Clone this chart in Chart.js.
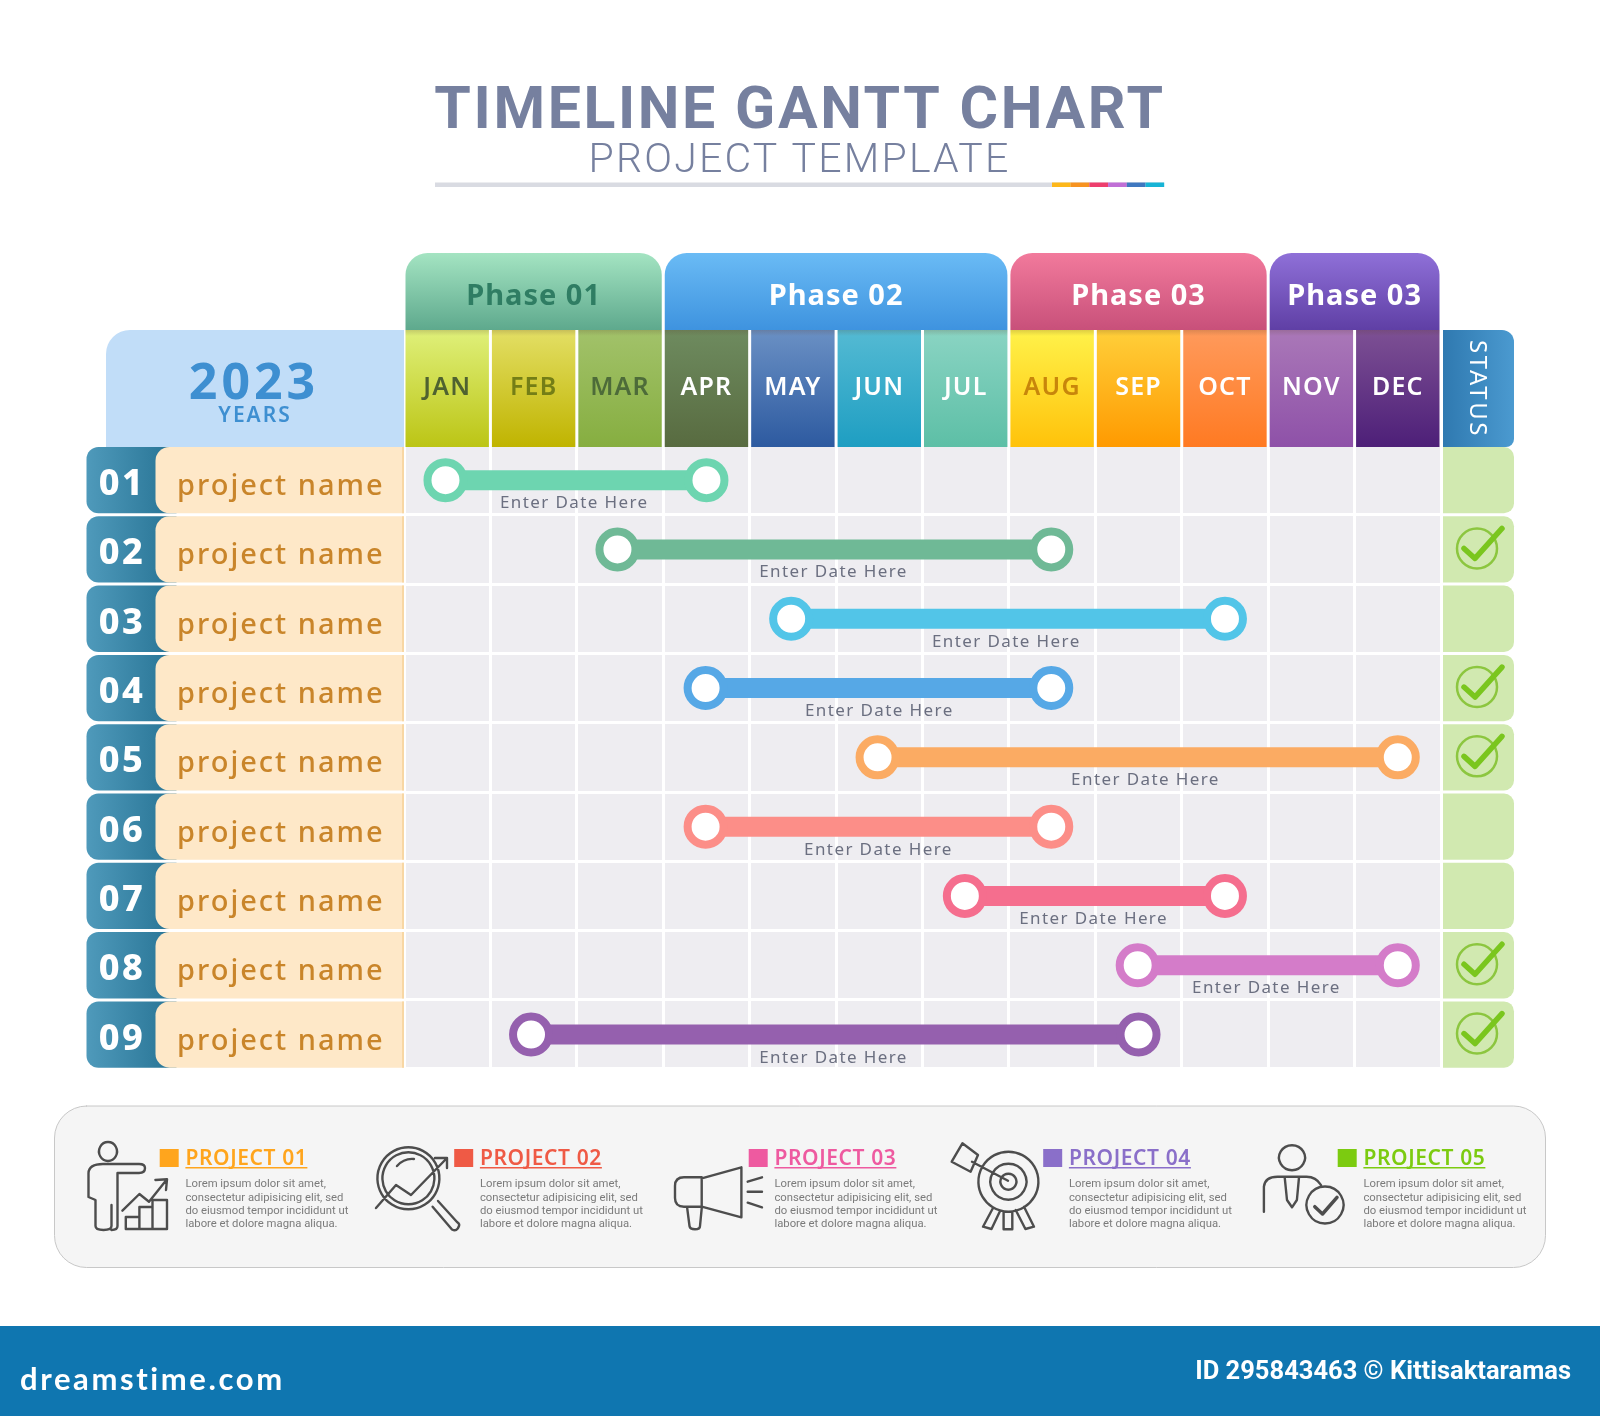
<!DOCTYPE html>
<html>
<head>
<meta charset="utf-8">
<title>Timeline Gantt Chart</title>
<script src="https://cdn.jsdelivr.net/npm/chart.js@4/dist/chart.umd.min.js"></script>
<style>
  html, body { margin: 0; padding: 0; background: #fff; }
  canvas { display: block; }
</style>
</head>
<body>
<canvas id="gantt" width="1600" height="1416"></canvas>
<script>
const months = ["JAN", "FEB", "MAR", "APR", "MAY", "JUN", "JUL", "AUG", "SEP", "OCT", "NOV", "DEC"];
const monthTops = ["#dff07a", "#e3df65", "#a2c26a", "#6e8b5f", "#6a90c4", "#54bad3", "#8ad4c3", "#fff24a", "#ffcf3a", "#ff9a5c", "#aa78b8", "#7d5094"];
const monthBottoms = ["#bcc515", "#c0b400", "#86ae40", "#586b40", "#2d5aa0", "#1e9ec2", "#5dbfa6", "#ffc20a", "#ff9a00", "#ff7a22", "#8e51a8", "#4d1f78"];
const monthText = ["#4f6230", "#747e16", "#4d6b39", "#fff", "#fff", "#fff", "#fff", "#c8860b", "#fff", "#fff", "#fff", "#fff"];

const phaseNames = ["Phase 01", "Phase 02", "Phase 03", "Phase 03"];
const phaseStarts = [0, 3, 7, 10];
const phaseEnds = [3, 7, 10, 12];
const phaseTops = ["#a4e4c2", "#6abbf5", "#f27a9c", "#8f70d8"];
const phaseBottoms = ["#5ea98d", "#3e93df", "#c8507a", "#5f3fa5"];
const phaseText = ["#2f7d63", "#fff", "#fff", "#fff"];

const rowNumbers = ["01", "02", "03", "04", "05", "06", "07", "08", "09"];
const rowNames = Array(9).fill("project name");
const taskStarts = [0.48, 2.47, 4.48, 3.49, 5.48, 3.49, 6.49, 8.49, 1.47];
const taskEnds = [3.5, 7.49, 9.5, 7.49, 11.5, 7.49, 9.5, 11.5, 8.5];
const labelAt = [1.97, 4.97, 6.97, 5.5, 8.58, 5.49, 7.98, 9.98, 4.97];
const taskColors = ["#6dd5b0", "#6fb996", "#52c5e8", "#56a8e6", "#fbab63", "#fc8e88", "#f56e8e", "#d47cc9", "#9560ae"];
const taskDone = [false, true, false, true, true, false, false, true, true];
const dateLabel = "Enter Date Here";

const legendTitles = ["PROJECT 01", "PROJECT 02", "PROJECT 03", "PROJECT 04", "PROJECT 05"];
const legendColors = ["#ffa51d", "#ef5a45", "#ee5aa0", "#8a6fc9", "#7ccb10"];
const legendBody = [
  "Lorem ipsum dolor sit amet,",
  "consectetur adipisicing elit, sed",
  "do eiusmod tempor incididunt ut",
  "labore et dolore magna aliqua."
];
const ruleColors = ["#fdb71a", "#f79320", "#ee3e6d", "#c06fd6", "#3f78c0", "#17b4d6"];

const HEAD = '"Noto Sans", sans-serif';

function txt(ctx, str, x, y, font, color, align, spacing) {
  ctx.font = font;
  ctx.fillStyle = color;
  ctx.textAlign = align || "left";
  ctx.textBaseline = "alphabetic";
  ctx.letterSpacing = (spacing || 0) + "px";
  ctx.fillText(str, x, y);
  ctx.letterSpacing = "0px";
}

function box(ctx, x, y, w, h, radii, fill) {
  ctx.beginPath();
  ctx.roundRect(x, y, w, h, radii);
  ctx.fillStyle = fill;
  ctx.fill();
}

function vGrad(ctx, y0, y1, c0, c1) {
  const g = ctx.createLinearGradient(0, y0, 0, y1);
  g.addColorStop(0, c0);
  g.addColorStop(1, c1);
  return g;
}

function hGrad(ctx, x0, x1, c0, c1) {
  const g = ctx.createLinearGradient(x0, 0, x1, 0);
  g.addColorStop(0, c0);
  g.addColorStop(1, c1);
  return g;
}

function drawTitle(ctx) {
  txt(ctx, "TIMELINE GANTT CHART", 800, 128, "700 59px Roboto", "#76809f", "center", 2.6);
  txt(ctx, "PROJECT TEMPLATE", 799.5, 172, "300 41px Roboto", "#76809f", "center", 2.2);
  box(ctx, 435, 182.5, 729, 4.5, 0, "#d9dbe2");
  ruleColors.forEach((c, i) => box(ctx, 1052 + i * 18.7, 182.5, 18.7, 4.5, 0, c));
}

function drawHeader(ctx, x) {
  box(ctx, 106, 330, 298, 117, [24, 0, 0, 0], "#c1ddf8");
  txt(ctx, "2023", 254, 399, "700 50px " + HEAD, "#3e8fd1", "center", 4);
  txt(ctx, "YEARS", 255, 422, "600 21px " + HEAD, "#3e8fd1", "center", 2);

  phaseNames.forEach((name, i) => {
    const l = x.getPixelForValue(phaseStarts[i]) + 1.5;
    const r = x.getPixelForValue(phaseEnds[i]) - 1.5;
    box(ctx, l, 253, r - l, 77, [22, 22, 0, 0], vGrad(ctx, 253, 330, phaseTops[i], phaseBottoms[i]));
    txt(ctx, name, (l + r) / 2, 305, "700 29px " + HEAD, phaseText[i], "center", 1);
  });

  months.forEach((m, i) => {
    const l = x.getPixelForValue(i) + 1.5;
    const r = x.getPixelForValue(i + 1) - 1.5;
    box(ctx, l, 330, r - l, 117, 0, vGrad(ctx, 330, 447, monthTops[i], monthBottoms[i]));
    box(ctx, l, 330, r - l, 6, 0, vGrad(ctx, 330, 336, "rgba(90,60,40,0.2)", "rgba(90,60,40,0)"));
    txt(ctx, m, (l + r) / 2, 395, "600 25px " + HEAD, monthText[i], "center", 1.2);
  });

  box(ctx, 1443, 330, 71, 117, [0, 12, 8, 0], hGrad(ctx, 1443, 1514, "#2f79b0", "#4b9ad0"));
  ctx.save();
  ctx.translate(1470, 389);
  ctx.rotate(Math.PI / 2);
  txt(ctx, "STATUS", 0, 0, "400 24px " + HEAD, "#fff", "center", 2.6);
  ctx.restore();
}

function drawCheck(ctx, cx, cy) {
  ctx.lineCap = "round";
  ctx.lineJoin = "round";
  ctx.beginPath();
  ctx.arc(cx, cy, 20, 0, Math.PI * 2);
  ctx.strokeStyle = "#8cc63f";
  ctx.lineWidth = 2.5;
  ctx.stroke();
  ctx.beginPath();
  ctx.moveTo(cx - 13, cy);
  ctx.lineTo(cx - 2, cy + 10);
  ctx.lineTo(cx + 25, cy - 20);
  ctx.strokeStyle = "#7ac61e";
  ctx.lineWidth = 5.5;
  ctx.stroke();
}

function drawRows(ctx, x, y) {
  rowNumbers.forEach((num, i) => {
    const top = Math.max(y.getPixelForValue(i) + 1.5, 447);
    const bot = y.getPixelForValue(i + 1) - 1.5;
    const h = bot - top;
    box(ctx, 86.5, top, 90, h, [12, 0, 0, 12], hGrad(ctx, 86, 166, "#4f9abb", "#2b7798"));
    box(ctx, 155.5, top, 248.5, h, [14, 0, 0, 14], "#fee8c8");
    box(ctx, 402, top, 2, h, 0, "#f8d7a4");
    const base = y.getPixelForValue(i + 0.5) + 15;
    txt(ctx, num, 122, base, "800 36px " + HEAD, "#fff", "center", 2.5);
    txt(ctx, rowNames[i], 177, base, "500 29px " + HEAD, "#c9852a", "left", 2);
    box(ctx, 1443, top, 71, h, [0, 10, 10, 0], "#d1e9b0");
    if (taskDone[i]) drawCheck(ctx, 1477, y.getPixelForValue(i + 0.5) - 1);
  });
}

function drawDateLabels(ctx, x, y) {
  labelAt.forEach((at, i) => {
    txt(ctx, dateLabel, x.getPixelForValue(at), y.getPixelForValue(i + 0.5) + 28, "400 17px " + HEAD, "#6b6f80", "center", 1.4);
  });
}

// line icons of the legend panel, stroked in page pixels
const iconPaths = [
  "M108 1142a9 9.5 0 1 0 .01 0Z M145 1168q0-4-6-4H103q-14 0-14.500 9V1197l7 3V1226q0 4 8 4t8-4V1205V1226 M145 1168q0 5-6 5H117.500V1226q0 4-6 4 M125.800 1217h13.600v12h-13.600Z M139.400 1207h13.100v22h-13.100Z M152.500 1200h14.500v29h-14.500Z M122.400 1210.700L139.400 1194L149 1201.700L167 1179.300 M155.400 1180L167 1179.300L166 1190",
  "M408.400 1147.300a31 31 0 1 0 .01 0Z M408.400 1152.300a26 26 0 1 0 .01 0Z M432.600 1206.700L452 1229.500Q457 1232 459 1226Q460 1224 457 1222L438 1201 M376 1208L396 1185L411 1195L447 1158 M435 1158H447V1168 M397 1166Q404 1158 414 1159",
  "M701.700 1178.300L741.400 1167.300V1217.300L701.700 1206.700Z M701.700 1177.300H684Q675 1177.300 675 1186V1198Q675 1206.700 684 1206.700H701.700 M687 1206.700L689.500 1226Q690 1229.300 695 1229.300T700 1226L701.700 1208.300 M747.700 1181.700L762 1177.300 M747.700 1191.700H762 M747.700 1202.700L762 1207.300",
  "M1008.400 1151.700a30 30 0 1 0 .01 0Z M1008.400 1163.700a18 18 0 1 0 .01 0Z M1008.400 1173.700a8 8 0 1 0 .01 0Z M1008 1180.700L972 1161.700 M962.400 1143.300L978 1155L970.600 1171.700L951.700 1161.700Z M993 1208L983 1226.700L991.500 1229L999.700 1211.700 M1015.700 1210L1025.400 1229L1034 1226.700L1024 1206.700 M1003.600 1211.700V1229.300H1012.300V1211.700",
  "M1292 1145.200a13 12.500 0 1 0 .01 0Z M1263.900 1211.700V1186.700Q1265 1176.700 1277.500 1176.700H1306.600Q1316 1176.700 1321 1185 M1284.700 1177.300L1287 1200L1292 1207.300L1296.900 1200L1299 1177.300 M1325 1186.500a18.500 18.500 0 1 0 .01 0Z"
];

function drawLegend(ctx) {
  box(ctx, 54.5, 1106, 1491, 161.500, 32, "#f5f5f5");
  ctx.beginPath();
  ctx.roundRect(54.5, 1106, 1491, 161.500, 32);
  ctx.strokeStyle = "#c8c8c8";
  ctx.lineWidth = 1;
  ctx.stroke();

  legendTitles.forEach((title, i) => {
    const sx = 159.7 + i * 294.5;
    const tx = sx + 25.7;
    box(ctx, sx, 1149, 19, 18, 0, legendColors[i]);
    txt(ctx, title, tx, 1165, "600 21px " + HEAD, legendColors[i], "left", 0.6);
    ctx.font = "600 21px " + HEAD;
    ctx.letterSpacing = "0.6px";
    const w = ctx.measureText(title).width;
    ctx.letterSpacing = "0px";
    box(ctx, tx, 1167, w, 1.5, 0, legendColors[i]);
    legendBody.forEach((line, j) => {
      txt(ctx, line, tx, 1187.3 + j * 13.35, "400 11.3px Roboto", "#7b7b7b");
    });
  });

  ctx.strokeStyle = "#4d4d4d";
  ctx.lineWidth = 2.4;
  ctx.lineCap = "round";
  ctx.lineJoin = "round";
  iconPaths.forEach((d) => ctx.stroke(new Path2D(d)));
  ctx.lineWidth = 3.5;
  ctx.stroke(new Path2D("M1314.800 1206.700L1322.500 1214L1337 1197.300"));
}

function drawFooter(ctx) {
  box(ctx, 0, 1326, 1600, 90, 0, "#0f76b0");
  txt(ctx, "dreamstime.com", 20, 1390, "700 31px Lato", "#fff", "left", 2.6);
  txt(ctx, "ID 295843463 © Kittisaktaramas", 1571, 1379, "700 25.5px Roboto", "#fff", "right");
}

const backdrop = {
  id: "backdrop",
  beforeDraw(chart) {
    const ctx = chart.ctx;
    ctx.save();
    box(ctx, 0, 0, 1600, 1416, 0, "#fff");
    box(ctx, 404, 447, 1037, 620, 0, "#eeedf1");
    ctx.restore();
  },
  afterDraw(chart) {
    const ctx = chart.ctx;
    const { x, y } = chart.scales;
    ctx.save();
    drawTitle(ctx);
    drawHeader(ctx, x);
    drawRows(ctx, x, y);
    drawDateLabels(ctx, x, y);
    drawLegend(ctx);
    drawFooter(ctx);
    ctx.restore();
  }
};

new Chart(document.getElementById("gantt"), {
  type: "scatter",
  plugins: [backdrop],
  data: {
    datasets: taskStarts.map((s, i) => ({
      label: rowNumbers[i],
      data: [{ x: s, y: i + 0.5 }, { x: taskEnds[i], y: i + 0.5 }],
      showLine: true,
      borderColor: taskColors[i],
      borderWidth: 20,
      pointRadius: 18,
      pointBorderWidth: 8,
      pointBorderColor: taskColors[i],
      pointBackgroundColor: "#fff",
      clip: false
    }))
  },
  options: {
    responsive: false,
    animation: false,
    devicePixelRatio: 1,
    layout: { padding: { left: 404, right: 159, top: 445.5, bottom: 346.8 } },
    plugins: { legend: { display: false }, tooltip: { enabled: false } },
    scales: {
      x: {
        min: 0,
        max: 12,
        ticks: { display: false, stepSize: 1 },
        border: { display: false },
        grid: { color: "#fff", lineWidth: 3, drawTicks: false }
      },
      y: {
        min: 0,
        max: 9,
        reverse: true,
        ticks: { display: false, stepSize: 1 },
        border: { display: false },
        grid: { color: "#fff", lineWidth: 3, drawTicks: false }
      }
    }
  }
});
</script>
</body>
</html>
